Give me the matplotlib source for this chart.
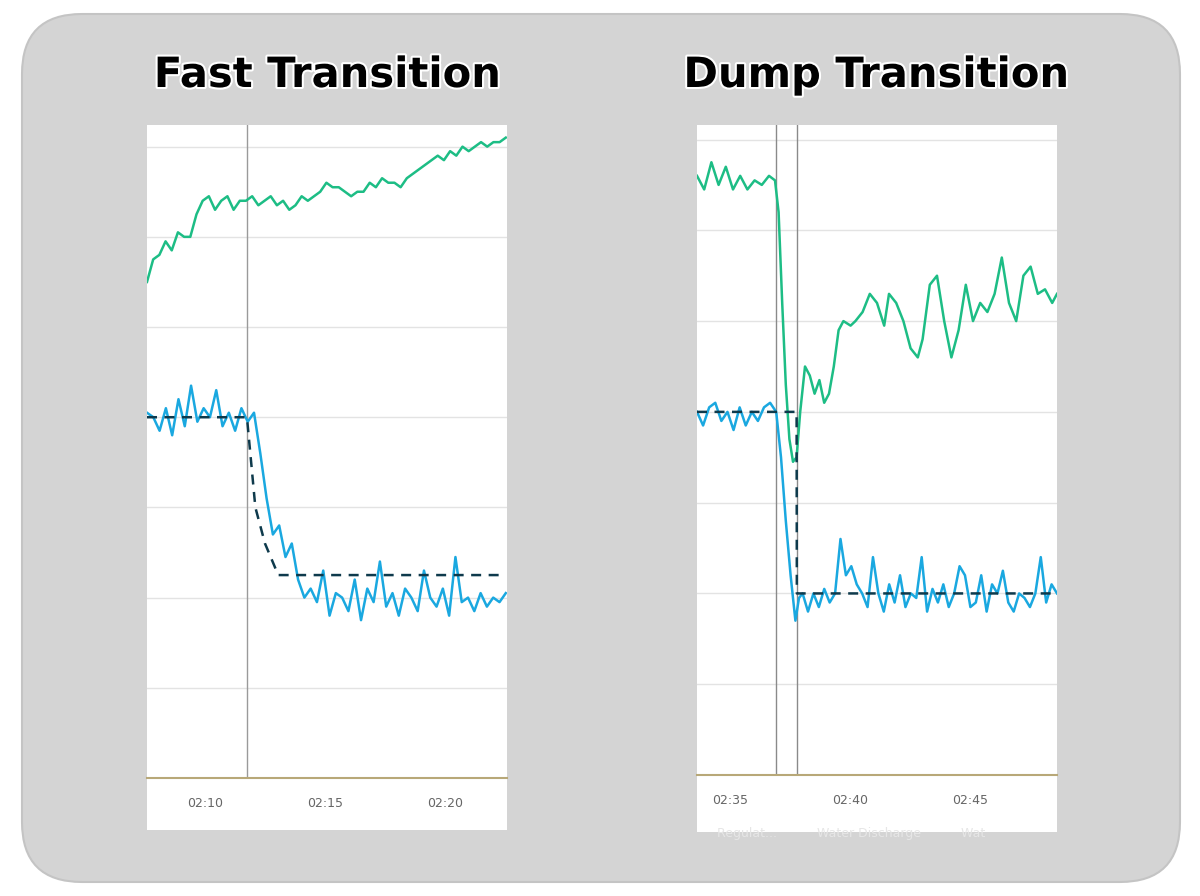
import numpy as np
import matplotlib
matplotlib.use("Agg")
import matplotlib.pyplot as plt
from matplotlib.patches import FancyBboxPatch, Rectangle
import matplotlib.patheffects as pe

titles = ["Fast Transition", "Dump Transition"]

# Left panel (minutes after 02:00)
L_green = [5.5,5.75,5.8,5.95,5.85,6.05,6.0,6.0,6.25,6.4,6.45,6.3,6.4,6.45,6.3,6.4,6.4,6.45,6.35,6.4,
           6.45,6.35,6.4,6.3,6.35,6.45,6.4,6.45,6.5,6.6,6.55,6.55,6.5,6.45,6.5,6.5,6.6,6.55,6.65,6.6,
           6.6,6.55,6.65,6.7,6.75,6.8,6.85,6.9,6.85,6.95,6.9,7.0,6.95,7.0,7.05,7.0,7.05,7.05,7.1]
L_blue = [4.05,4.0,3.85,4.1,3.8,4.2,3.9,4.35,3.95,4.1,4.0,4.3,3.9,4.05,3.85,4.1,3.95,4.05,
          3.6,3.1,2.7,2.8,2.45,2.6,2.2,2.0,2.1,1.95,2.3,1.8,2.05,2.0,1.85,2.2,1.75,2.1,1.95,2.4,
          1.9,2.05,1.8,2.1,2.0,1.85,2.3,2.0,1.9,2.1,1.8,2.45,1.95,2.0,1.85,2.05,1.9,2.0,1.95,2.05]
L_dash_x = [7.6, 11.75, 12.1, 12.5, 13.05, 22.5]
L_dash_y = [4.0, 4.0, 3.0, 2.6, 2.25, 2.25]
L_vlines = [11.75]

# Right panel (minutes after 02:00)
R_green_x = [33.6,33.9,34.2,34.5,34.8,35.1,35.4,35.7,36.0,36.3,36.6,36.85,37.0,37.15,37.3,37.45,37.6,37.75,37.9,
             38.1,38.3,38.5,38.7,38.9,39.1,39.3,39.5,39.7,40.0,40.2,40.5,40.8,41.1,41.4,41.6,41.9,
             42.2,42.5,42.8,43.0,43.3,43.6,43.9,44.2,44.5,44.8,45.1,45.4,45.7,46.0,46.3,46.6,46.9,
             47.2,47.5,47.8,48.1,48.4,48.6]
R_green = [6.6,6.45,6.75,6.5,6.7,6.45,6.6,6.45,6.55,6.5,6.6,6.55,6.2,5.2,4.3,3.7,3.45,3.5,4.0,
           4.5,4.4,4.2,4.35,4.1,4.2,4.5,4.9,5.0,4.95,5.0,5.1,5.3,5.2,4.95,5.3,5.2,
           5.0,4.7,4.6,4.8,5.4,5.5,5.0,4.6,4.9,5.4,5.0,5.2,5.1,5.3,5.7,5.2,5.0,
           5.5,5.6,5.3,5.35,5.2,5.3]
R_blue_pre = [4.0,3.85,4.05,4.1,3.9,4.0,3.8,4.05,3.85,4.0,3.9,4.05,4.1,4.0]
R_drop_x = [37.1,37.3,37.5,37.7,37.85]
R_drop = [3.5,2.8,2.2,1.7,1.95]
R_blue_post = [2.0,1.8,2.0,1.85,2.05,1.9,2.0,2.6,2.2,2.3,2.1,2.0,1.85,2.4,2.0,1.8,2.1,1.9,2.2,1.85,
               2.0,1.95,2.4,1.8,2.05,1.9,2.1,1.85,2.0,2.3,2.2,1.85,1.9,2.2,1.8,2.1,2.0,2.25,1.9,1.8,
               2.0,1.95,1.85,2.0,2.4,1.9,2.1,2.0]
R_dash_x = [33.6, 37.75, 37.76, 48.6]
R_dash_y = [4.0, 4.0, 2.0, 2.0]
R_vlines = [36.9, 37.75]

GREEN = "#1dbd85"; BLUE = "#1aa8e0"; DASH = "#0e3a4c"

fig = plt.figure(figsize=(12, 8.96), dpi=100)
bg = fig.add_axes([0, 0, 1, 1]); bg.set_xlim(0, 1200); bg.set_ylim(896, 0); bg.axis("off")
bg.add_patch(FancyBboxPatch((22, 14), 1158, 868, boxstyle="round,pad=0,rounding_size=60",
                            fc="#d4d4d4", ec="#c4c4c4", lw=1.5))
bg.add_patch(Rectangle((147, 125), 360, 705, fc="white", ec="none"))
bg.add_patch(Rectangle((697, 125), 360, 707, fc="white", ec="none"))
for t, xc in zip(titles, [327, 876]):
    bg.text(xc, 75, t, ha="center", va="center", fontsize=30, fontweight="bold", color="black",
            path_effects=[pe.withStroke(linewidth=3, foreground="white")])
bg.text(717, 833, "Regulat...          Water Discharge          Wat", fontsize=9, color="#e6e6e6",
        va="center")

def setup(ax, x0, x1, top, ticks):
    ax.set_xlim(x0, x1); ax.set_ylim(0, top)
    ax.set_facecolor("white")
    for s in ["top", "left", "right"]:
        ax.spines[s].set_visible(False)
    ax.spines["bottom"].set_color("#b8a878"); ax.spines["bottom"].set_linewidth(1.5)
    ax.set_yticks(range(1, 8)); ax.set_yticklabels([])
    ax.grid(axis="y", color="#e3e3e3", lw=1)
    ax.set_xticks(ticks); ax.set_xticklabels(["02:%02d" % t for t in ticks])
    ax.tick_params(length=0, labelsize=9, labelcolor="#666666", pad=14, left=False)

axL = fig.add_axes([147/1200, (896-778)/896, 360/1200, 653/896])
setup(axL, 7.6, 22.55, 7.24, [10, 15, 20])
for v in L_vlines: axL.axvline(v, color="#9a9a9a", lw=1)
axL.plot(np.linspace(7.6, 22.5, len(L_green)), L_green, color=GREEN, lw=1.8)
axL.plot(np.linspace(7.6, 22.5, len(L_blue)), L_blue, color=BLUE, lw=1.8)
axL.plot(L_dash_x, L_dash_y, color=DASH, lw=1.8, ls=(0, (4, 3)))

axR = fig.add_axes([697/1200, (896-775)/896, 360/1200, 650/896])
setup(axR, 33.6, 48.6, 7.16, [35, 40, 45])
for v in R_vlines: axR.axvline(v, color="#8a8a8a", lw=1)
axR.plot(R_green_x, R_green, color=GREEN, lw=1.8)
bx = list(np.linspace(33.6, 36.9, len(R_blue_pre))) + R_drop_x + list(np.linspace(38.0, 48.6, len(R_blue_post)))
axR.plot(bx, R_blue_pre + R_drop + R_blue_post, color=BLUE, lw=1.8)
axR.plot(R_dash_x, R_dash_y, color=DASH, lw=1.8, ls=(0, (4, 3)))

fig.savefig("out.png", dpi=100)
